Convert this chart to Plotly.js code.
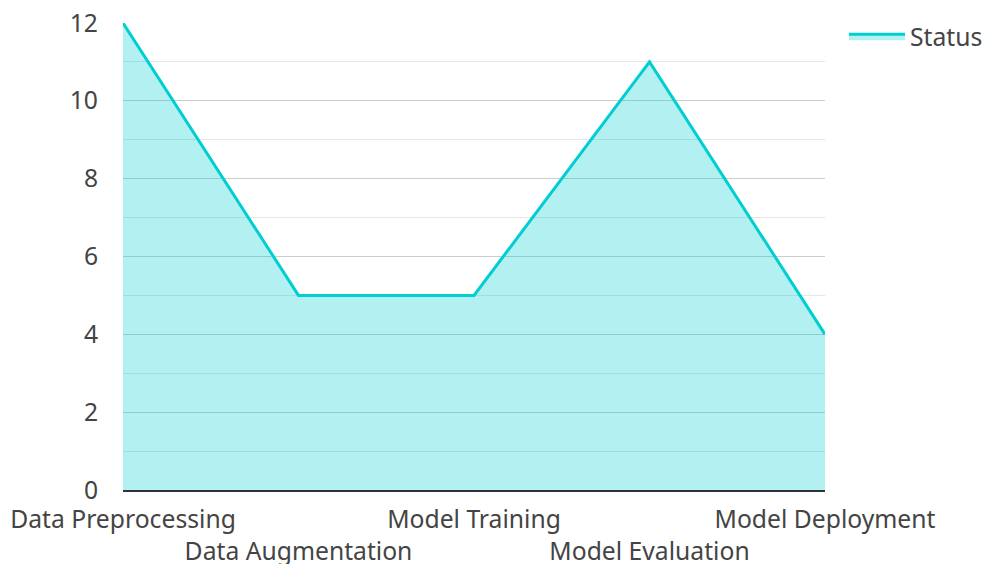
<!DOCTYPE html>
<html>
<head>
<meta charset="utf-8">
<script src="https://cdn.plot.ly/plotly-3.0.1.min.js"></script>
<style>html,body{margin:0;padding:0;background:#fff;}#chart{width:983px;height:564px;}</style>
</head>
<body>
<div id="chart"></div>
<script>
const stages = ["Data Preprocessing", "Data Augmentation", "Model Training", "Model Evaluation", "Model Deployment"];
const statusValues = [12, 5, 5, 11, 4];
const seriesName = "Status";
const yTickVals = [0, 2, 4, 6, 8, 10, 12];

const idx = stages.map((_, i) => i);
const rowA = idx.filter(i => i % 2 === 0);
const rowB = idx.filter(i => i % 2 === 1);

const font = {family: "Noto Sans, Open Sans, sans-serif", size: 24.7, color: "#444"};

const traces = [
  {
    x: idx, y: statusValues, name: seriesName, type: "scatter", mode: "lines",
    fill: "tozeroy", fillcolor: "rgba(0,206,209,0.3)",
    line: {color: "#00CED1", width: 3}, xaxis: "x", yaxis: "y"
  },
  {
    x: idx, y: statusValues, type: "scatter", mode: "lines", showlegend: false,
    hoverinfo: "skip", line: {color: "rgba(0,0,0,0)", width: 0}, xaxis: "x2", yaxis: "y"
  }
];

const layout = {
  width: 983, height: 564,
  margin: {l: 123, r: 158, t: 23, b: 74, autoexpand: false},
  paper_bgcolor: "#fff", plot_bgcolor: "#fff",
  font: font,
  showlegend: true,
  legend: {x: 1.027, y: 1.02, xanchor: "left", yanchor: "top", font: font, bgcolor: "rgba(0,0,0,0)", itemwidth: 56},
  xaxis: {
    range: [0, 4], tickmode: "array", tickvals: rowA, ticktext: rowA.map(i => stages[i]),
    showgrid: false, zeroline: false, showline: true, linecolor: "#333", linewidth: 2,
    ticks: "", ticklabelstandoff: 6, tickfont: font, fixedrange: true, automargin: false
  },
  xaxis2: {
    overlaying: "x", matches: "x", anchor: "y", side: "bottom",
    range: [0, 4], tickmode: "array", tickvals: rowB, ticktext: rowB.map(i => stages[i]),
    showgrid: false, zeroline: false, showline: false, automargin: false,
    ticks: "", ticklabelstandoff: 44, tickfont: font
  },
  yaxis: {
    range: [0, 12], tickmode: "array", tickvals: yTickVals, automargin: false,
    showgrid: true, gridcolor: "#cccccc", gridwidth: 1, zeroline: false, showline: false,
    ticks: "", ticklabelstandoff: 24, tickfont: font,
    minor: {dtick: 1, tick0: 0, showgrid: true, gridcolor: "#e6e6e6", gridwidth: 1}
  }
};

Plotly.newPlot("chart", traces, layout, {displayModeBar: false, staticPlot: true});
</script>
</body>
</html>
